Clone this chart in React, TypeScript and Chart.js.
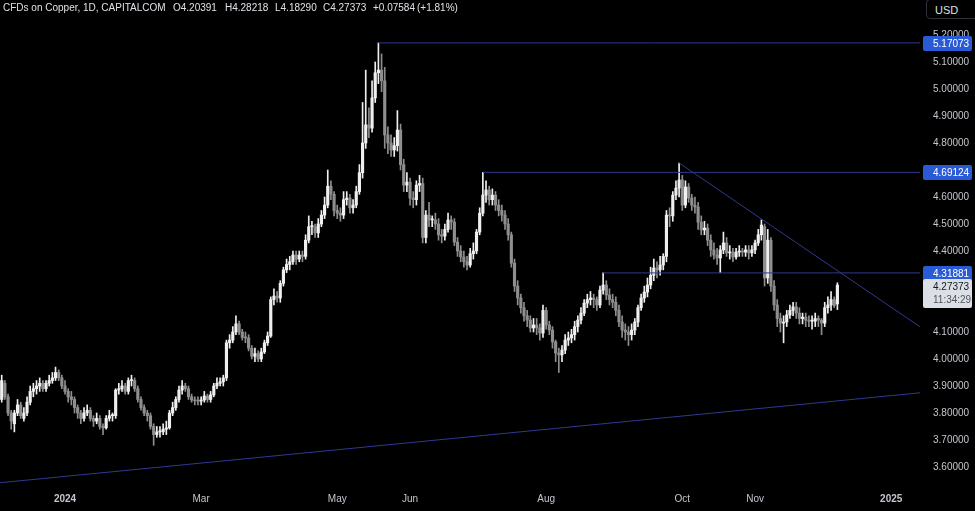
import React, { useEffect, useRef } from "react";
import { Chart, registerables } from "chart.js";

Chart.register(...registerables);

// Bar index 0 = 2 Jan 2024 (weekday bars). First bar shown is index -20.
const startIndex = -20;

const opens = [
  3.85, 3.91, 3.86, 3.80, 3.76, 3.80, 3.83, 3.78, 3.80, 3.84,
  3.88, 3.89, 3.90, 3.91, 3.89, 3.91, 3.92, 3.93, 3.95, 3.93,
  3.90, 3.88, 3.86, 3.85, 3.82, 3.80, 3.78, 3.80, 3.81, 3.78,
  3.77, 3.78, 3.75, 3.745, 3.78, 3.79, 3.79, 3.885, 3.89, 3.90,
  3.88, 3.92, 3.92, 3.89, 3.85, 3.82, 3.80, 3.79, 3.75, 3.72,
  3.73, 3.73, 3.74, 3.745, 3.80, 3.82, 3.85, 3.885, 3.90, 3.89,
  3.86, 3.848, 3.845, 3.844, 3.848, 3.863, 3.85, 3.867, 3.90, 3.91,
  3.915, 3.93, 4.06, 4.07, 4.10, 4.13, 4.10, 4.08, 4.078, 4.04,
  4.01, 4.02, 4.00, 4.026, 4.06, 4.085, 4.22, 4.233, 4.226, 4.28,
  4.33, 4.35, 4.36, 4.385, 4.37, 4.385, 4.38, 4.44, 4.49, 4.49,
  4.467, 4.50, 4.533, 4.57, 4.64, 4.61, 4.55, 4.54, 4.533, 4.59,
  4.596, 4.56, 4.57, 4.62, 4.69, 4.80, 4.867, 4.855, 4.967, 5.06,
  5.07, 5.03, 4.83, 4.80, 4.774, 4.79, 4.848, 4.72, 4.644, 4.655,
  4.596, 4.59, 4.644, 4.65, 4.45, 4.533, 4.515, 4.515, 4.50, 4.46,
  4.455, 4.48, 4.515, 4.507, 4.433, 4.40, 4.378, 4.36, 4.348, 4.39,
  4.40, 4.47, 4.54, 4.607, 4.626, 4.59, 4.607, 4.57, 4.55, 4.533,
  4.50, 4.46, 4.355, 4.27, 4.226, 4.19, 4.16, 4.144, 4.115, 4.126,
  4.115, 4.096, 4.18, 4.126, 4.107, 4.063, 4.022, 4.015, 4.033, 4.07,
  4.078, 4.09, 4.12, 4.144, 4.17, 4.207, 4.22, 4.226, 4.22, 4.20,
  4.255, 4.274, 4.237, 4.22, 4.21, 4.18, 4.137, 4.107, 4.10, 4.09,
  4.107, 4.137, 4.19, 4.226, 4.248, 4.274, 4.31, 4.337, 4.33, 4.348,
  4.38, 4.533, 4.53, 4.607, 4.633, 4.663, 4.57, 4.637, 4.596, 4.57,
  4.563, 4.507, 4.478, 4.485, 4.44, 4.404, 4.385, 4.374, 4.404, 4.43,
  4.393, 4.396, 4.378, 4.396, 4.40, 4.396, 4.404, 4.393, 4.404, 4.43,
  4.46, 4.49, 4.30, 4.44, 4.27, 4.20, 4.15, 4.133, 4.137, 4.163,
  4.18, 4.193, 4.17, 4.15, 4.155, 4.144, 4.14, 4.14, 4.15, 4.144,
  4.133, 4.19, 4.20, 4.22, 4.20391,
];

const highs = [
  3.94, 3.92, 3.87, 3.81, 3.81, 3.85, 3.84, 3.82, 3.86, 3.90,
  3.91, 3.92, 3.93, 3.92, 3.92, 3.94, 3.95, 3.97, 3.96, 3.94,
  3.92, 3.89, 3.88, 3.86, 3.83, 3.81, 3.82, 3.83, 3.82, 3.79,
  3.80, 3.79, 3.76, 3.79, 3.81, 3.80, 3.89, 3.91, 3.92, 3.91,
  3.93, 3.94, 3.93, 3.90, 3.86, 3.83, 3.81, 3.80, 3.76, 3.75,
  3.75, 3.76, 3.77, 3.81, 3.84, 3.86, 3.90, 3.92, 3.91, 3.90,
  3.87, 3.86, 3.86, 3.86, 3.88, 3.87, 3.88, 3.91, 3.93, 3.93,
  3.94, 4.07, 4.09, 4.12, 4.16, 4.14, 4.11, 4.10, 4.09, 4.05,
  4.04, 4.03, 4.04, 4.07, 4.10, 4.23, 4.26, 4.25, 4.29, 4.34,
  4.37, 4.38, 4.40, 4.40, 4.40, 4.40, 4.46, 4.53, 4.51, 4.50,
  4.52, 4.55, 4.60, 4.70, 4.66, 4.62, 4.57, 4.56, 4.62, 4.62,
  4.61, 4.59, 4.64, 4.72, 4.95, 5.07, 4.93, 5.03, 5.10, 5.17073,
  5.13, 5.08, 4.86, 4.83, 4.82, 4.92, 4.87, 4.74, 4.69, 4.67,
  4.62, 4.66, 4.68, 4.67, 4.55, 4.58, 4.53, 4.54, 4.52, 4.48,
  4.50, 4.54, 4.53, 4.52, 4.45, 4.42, 4.40, 4.38, 4.41, 4.43,
  4.48, 4.56, 4.69124, 4.66, 4.64, 4.63, 4.62, 4.59, 4.57, 4.55,
  4.52, 4.47, 4.37, 4.29, 4.24, 4.21, 4.18, 4.16, 4.15, 4.15,
  4.13, 4.20, 4.19, 4.14, 4.12, 4.07, 4.04, 4.05, 4.09, 4.10,
  4.11, 4.14, 4.16, 4.19, 4.22, 4.24, 4.25, 4.24, 4.23, 4.27,
  4.31881, 4.29, 4.26, 4.24, 4.23, 4.20, 4.16, 4.13, 4.12, 4.13,
  4.15, 4.20, 4.24, 4.27, 4.30, 4.34, 4.37, 4.36, 4.38, 4.39,
  4.55, 4.56, 4.62, 4.66, 4.726, 4.68, 4.66, 4.65, 4.61, 4.60,
  4.58, 4.53, 4.51, 4.50, 4.46, 4.43, 4.41, 4.42, 4.47, 4.45,
  4.42, 4.41, 4.41, 4.42, 4.41, 4.42, 4.42, 4.42, 4.44, 4.48,
  4.515, 4.50, 4.48, 4.45, 4.29, 4.22, 4.17, 4.16, 4.18, 4.20,
  4.21, 4.21, 4.19, 4.17, 4.17, 4.16, 4.16, 4.17, 4.16, 4.15,
  4.21, 4.23, 4.25, 4.23, 4.28218,
];

const lows = [
  3.84, 3.85, 3.79, 3.74, 3.73, 3.79, 3.78, 3.77, 3.79, 3.83,
  3.86, 3.87, 3.88, 3.88, 3.88, 3.90, 3.91, 3.92, 3.92, 3.89,
  3.87, 3.84, 3.83, 3.80, 3.78, 3.76, 3.77, 3.79, 3.77, 3.75,
  3.76, 3.74, 3.72, 3.74, 3.77, 3.77, 3.78, 3.87, 3.88, 3.87,
  3.87, 3.90, 3.88, 3.84, 3.81, 3.79, 3.77, 3.74, 3.68, 3.71,
  3.71, 3.72, 3.72, 3.74, 3.79, 3.81, 3.84, 3.87, 3.88, 3.85,
  3.84, 3.83, 3.83, 3.83, 3.84, 3.84, 3.84, 3.86, 3.89, 3.90,
  3.90, 3.92, 4.04, 4.06, 4.09, 4.09, 4.07, 4.06, 4.03, 4.00,
  3.99, 3.99, 3.99, 4.02, 4.05, 4.08, 4.20, 4.21, 4.21, 4.27,
  4.32, 4.33, 4.35, 4.35, 4.36, 4.36, 4.37, 4.43, 4.46, 4.45,
  4.45, 4.49, 4.52, 4.56, 4.59, 4.53, 4.52, 4.51, 4.52, 4.57,
  4.54, 4.54, 4.56, 4.61, 4.67, 4.78, 4.82, 4.84, 4.95, 5.02,
  4.99, 4.78, 4.76, 4.75, 4.75, 4.77, 4.70, 4.62, 4.62, 4.57,
  4.56, 4.57, 4.62, 4.43, 4.43, 4.49, 4.49, 4.48, 4.44, 4.43,
  4.44, 4.47, 4.48, 4.42, 4.38, 4.36, 4.34, 4.33, 4.34, 4.37,
  4.39, 4.46, 4.53, 4.58, 4.57, 4.57, 4.55, 4.53, 4.51, 4.48,
  4.44, 4.34, 4.25, 4.20, 4.17, 4.14, 4.12, 4.10, 4.10, 4.09,
  4.07, 4.08, 4.11, 4.09, 4.04, 3.99, 3.95, 3.99, 4.02, 4.05,
  4.06, 4.07, 4.10, 4.13, 4.16, 4.19, 4.20, 4.19, 4.18, 4.19,
  4.24, 4.22, 4.20, 4.19, 4.16, 4.12, 4.08, 4.07, 4.05, 4.07,
  4.09, 4.12, 4.18, 4.21, 4.23, 4.26, 4.29, 4.30, 4.31, 4.33,
  4.36, 4.49, 4.51, 4.59, 4.60, 4.55, 4.56, 4.58, 4.55, 4.54,
  4.48, 4.46, 4.46, 4.42, 4.38, 4.37, 4.35, 4.32, 4.39, 4.38,
  4.37, 4.36, 4.37, 4.38, 4.38, 4.38, 4.37, 4.38, 4.39, 4.42,
  4.44, 4.27, 4.28, 4.25, 4.18, 4.12, 4.10, 4.06, 4.12, 4.15,
  4.16, 4.15, 4.13, 4.13, 4.12, 4.12, 4.11, 4.12, 4.12, 4.09,
  4.12, 4.17, 4.18, 4.19, 4.1829,
];

const closes = [
  3.92, 3.86, 3.80, 3.77, 3.80, 3.83, 3.79, 3.80, 3.84, 3.88,
  3.89, 3.90, 3.91, 3.89, 3.91, 3.92, 3.93, 3.95, 3.93, 3.90,
  3.88, 3.86, 3.85, 3.82, 3.80, 3.78, 3.80, 3.81, 3.78, 3.77,
  3.78, 3.75, 3.745, 3.78, 3.79, 3.79, 3.885, 3.89, 3.90, 3.88,
  3.92, 3.92, 3.89, 3.85, 3.82, 3.80, 3.79, 3.75, 3.72, 3.73,
  3.73, 3.74, 3.745, 3.80, 3.82, 3.85, 3.885, 3.90, 3.89, 3.86,
  3.848, 3.845, 3.844, 3.848, 3.863, 3.85, 3.867, 3.90, 3.91, 3.915,
  3.93, 4.06, 4.07, 4.10, 4.13, 4.10, 4.08, 4.078, 4.04, 4.01,
  4.02, 4.00, 4.026, 4.06, 4.085, 4.22, 4.233, 4.226, 4.28, 4.33,
  4.35, 4.36, 4.385, 4.37, 4.385, 4.38, 4.44, 4.49, 4.49, 4.467,
  4.50, 4.533, 4.57, 4.64, 4.61, 4.55, 4.54, 4.533, 4.59, 4.596,
  4.56, 4.57, 4.62, 4.69, 4.80, 4.867, 4.855, 4.967, 5.06, 5.07,
  5.03, 4.83, 4.80, 4.774, 4.79, 4.848, 4.72, 4.644, 4.655, 4.596,
  4.59, 4.644, 4.65, 4.45, 4.533, 4.515, 4.515, 4.50, 4.46, 4.455,
  4.48, 4.515, 4.507, 4.433, 4.40, 4.378, 4.36, 4.348, 4.39, 4.40,
  4.47, 4.54, 4.607, 4.626, 4.59, 4.607, 4.57, 4.55, 4.533, 4.50,
  4.46, 4.355, 4.27, 4.226, 4.19, 4.16, 4.144, 4.115, 4.126, 4.115,
  4.096, 4.18, 4.126, 4.107, 4.063, 4.022, 4.015, 4.033, 4.07, 4.078,
  4.09, 4.12, 4.144, 4.17, 4.207, 4.22, 4.226, 4.22, 4.20, 4.255,
  4.274, 4.237, 4.22, 4.21, 4.18, 4.137, 4.107, 4.10, 4.09, 4.107,
  4.137, 4.19, 4.226, 4.248, 4.274, 4.31, 4.337, 4.33, 4.348, 4.38,
  4.533, 4.53, 4.607, 4.633, 4.663, 4.57, 4.637, 4.596, 4.57, 4.563,
  4.507, 4.478, 4.485, 4.44, 4.404, 4.385, 4.374, 4.404, 4.43, 4.393,
  4.396, 4.378, 4.396, 4.40, 4.396, 4.404, 4.393, 4.404, 4.43, 4.46,
  4.496, 4.30, 4.44, 4.27, 4.20, 4.15, 4.133, 4.137, 4.163, 4.18,
  4.193, 4.17, 4.15, 4.155, 4.144, 4.14, 4.14, 4.15, 4.144, 4.133,
  4.19, 4.20, 4.22, 4.19789, 4.27373,
];

const priceTicks = [3.6, 3.7, 3.8, 3.9, 4.0, 4.1, 4.2, 4.3, 4.4, 4.5, 4.6, 4.7, 4.8, 4.9, 5.0, 5.1, 5.2];
const timeTickIndex = [0, 43, 86, 109, 152, 195, 218, 261];
const timeTickLabels = ["2024", "Mar", "May", "Jun", "Aug", "Oct", "Nov", "2025"];

const levelValues = [5.17073, 4.69124, 4.31881];
const levelStartIndex = [99, 132, 170];
const trendDownPoints = [{ x: 194, y: 4.726 }, { x: 272, y: 4.104 }];
const trendUpPoints = [{ x: -22, y: 3.54 }, { x: 272, y: 3.877 }];

const lastPrice = 4.27373;
const countdown = "11:34:29";
const headerTitle = "CFDs on Copper, 1D, CAPITALCOM";
const headerItems = ["O4.20391", "H4.28218", "L4.18290", "C4.27373", "+0.07584", "(+1.81%)"];

const X_MIN = -20.54;
const X_MAX = 270.1;
const Y_MIN = 3.5407;
const Y_MAX = 5.3296;

const UP = "#efefef";
const DOWN = "#8e8e8e";
const LINE = "rgb(48, 56, 146)";
const LABEL_BLUE = "#2a5bd7";
const FONT = '"Liberation Sans", Arial, sans-serif';

function rr(ctx: CanvasRenderingContext2D, x: number, y: number, w: number, h: number, r: number) {
  ctx.beginPath();
  ctx.moveTo(x + r, y);
  ctx.lineTo(x + w - r, y);
  ctx.quadraticCurveTo(x + w, y, x + w, y + r);
  ctx.lineTo(x + w, y + h - r);
  ctx.quadraticCurveTo(x + w, y + h, x + w - r, y + h);
  ctx.lineTo(x + r, y + h);
  ctx.quadraticCurveTo(x, y + h, x, y + h - r);
  ctx.lineTo(x, y + r);
  ctx.quadraticCurveTo(x, y, x + r, y);
  ctx.closePath();
}

const labelPlugin = {
  id: "priceLabels",
  afterDraw(chart: any) {
    const ctx: CanvasRenderingContext2D = chart.ctx;
    const ys = chart.scales.y;
    const left = chart.chartArea.right + 3;
    ctx.save();
    ctx.font = `10px ${FONT}`;
    ctx.textBaseline = "middle";
    ctx.textAlign = "left";
    levelValues.forEach((v) => {
      const py = Math.round(ys.getPixelForValue(v));
      ctx.fillStyle = LABEL_BLUE;
      rr(ctx, left, py - 7, 49, 15, 2);
      ctx.fill();
      ctx.fillStyle = "#ffffff";
      ctx.fillText(v.toFixed(5), left + 10, py + 1);
    });
    const py = Math.round(ys.getPixelForValue(lastPrice));
    ctx.fillStyle = "#dcdfe6";
    rr(ctx, left, py - 6, 49, 29, 2);
    ctx.fill();
    ctx.fillStyle = "#131722";
    ctx.fillText(lastPrice.toFixed(5), left + 10, py + 2);
    ctx.fillStyle = "#50535e";
    ctx.fillText(countdown, left + 10, py + 15);
    ctx.restore();
  },
};

export default function App() {
  const ref = useRef<HTMLCanvasElement | null>(null);

  useEffect(() => {
    document.body.style.margin = "0";
    document.body.style.background = "#000";
    const idx = closes.map((_, k) => startIndex + k);
    const colorOf = (k: number) => (closes[k] >= opens[k] ? UP : DOWN);

    const wickData = idx.map((x, k) => ({ x, y: [lows[k], highs[k]] }));
    const bodyData = idx.map((x, k) => ({ x, y: [opens[k], closes[k]] }));

    const lineSet = (data: any[]) => ({
      type: "line" as const,
      data,
      borderColor: LINE,
      borderWidth: 1,
      pointRadius: 0,
      fill: false,
      order: 0,
      tension: 0,
    });

    const chart = new Chart(ref.current as HTMLCanvasElement, {
      type: "bar",
      data: {
        datasets: [
          ...levelValues.map((v, k) => lineSet([{ x: levelStartIndex[k], y: v }, { x: 272, y: v }])),
          lineSet(trendDownPoints),
          lineSet(trendUpPoints),
          {
            type: "bar",
            data: bodyData as any,
            backgroundColor: (c: any) => colorOf(c.dataIndex),
            barThickness: 2.5,
            minBarLength: 1,
            grouped: false,
            order: 1,
          },
          {
            type: "bar",
            data: wickData as any,
            backgroundColor: (c: any) => colorOf(c.dataIndex),
            barThickness: 1,
            grouped: false,
            order: 2,
          },
        ] as any,
      },
      options: {
        animation: false,
        responsive: false,
        maintainAspectRatio: false,
        layout: { padding: 0 },
        plugins: { legend: { display: false }, tooltip: { enabled: false } },
        events: [],
        scales: {
          x: {
            type: "linear",
            min: X_MIN,
            max: X_MAX,
            offset: false,
            grid: { display: false, drawTicks: false },
            border: { display: false },
            afterBuildTicks: (s: any) => {
              s.ticks = timeTickIndex.map((v) => ({ value: v }));
            },
            afterFit: (s: any) => {
              s.height = 28;
              s.paddingLeft = 0;
              s.paddingRight = 0;
            },
            ticks: {
              autoSkip: false,
              maxRotation: 0,
              padding: 10,
              color: "#c3c6ce",
              font: (c: any) => {
                const i = timeTickIndex.indexOf(c.tick ? c.tick.value : -999);
                const lab = i >= 0 ? timeTickLabels[i] : "";
                return { family: FONT, size: 10, weight: /^\d{4}$/.test(lab) ? "bold" : "normal" };
              },
              callback: (v: any) => {
                const i = timeTickIndex.indexOf(Number(v));
                return i >= 0 ? timeTickLabels[i] : "";
              },
            },
          },
          y: {
            type: "linear",
            position: "right",
            min: Y_MIN,
            max: Y_MAX,
            grid: { display: false, drawTicks: false },
            border: { display: false },
            afterBuildTicks: (s: any) => {
              s.ticks = priceTicks.map((v) => ({ value: v }));
            },
            afterFit: (s: any) => {
              s.width = 55;
              s.paddingTop = 0;
              s.paddingBottom = 0;
            },
            ticks: {
              padding: 13,
              color: "#c3c6ce",
              font: { family: FONT, size: 10 },
              callback: (v: any) => Number(v).toFixed(5),
            },
          },
        },
      },
      plugins: [labelPlugin],
    } as any);
    return () => chart.destroy();
  }, []);

  const headerLeft = [173, 225, 275, 323, 373, 417];

  return (
    <div style={{ position: "relative", width: 975, height: 511, background: "#000", overflow: "hidden", fontFamily: FONT }}>
      <canvas ref={ref} width={975} height={511} style={{ position: "absolute", left: 0, top: 0, width: 975, height: 511 }} />
      <div style={{ position: "absolute", left: 3, top: 2, fontSize: 10, color: "#dfe1e6", whiteSpace: "nowrap", lineHeight: "12px" }}>
        {headerTitle}
      </div>
      {headerItems.map((t, k) => (
        <div key={k} style={{ position: "absolute", left: headerLeft[k], top: 2, fontSize: 10, color: "#dfe1e6", whiteSpace: "nowrap", lineHeight: "12px" }}>
          {t}
        </div>
      ))}
      <div
        style={{
          position: "absolute",
          left: 926,
          top: -1,
          width: 52,
          height: 20,
          border: "1px solid #2e313a",
          borderRadius: 4,
          background: "#000",
          color: "#dfe1e6",
          fontSize: 11,
          lineHeight: "20px",
          paddingLeft: 8,
          boxSizing: "border-box",
        }}
      >
        USD
      </div>
    </div>
  );
}
